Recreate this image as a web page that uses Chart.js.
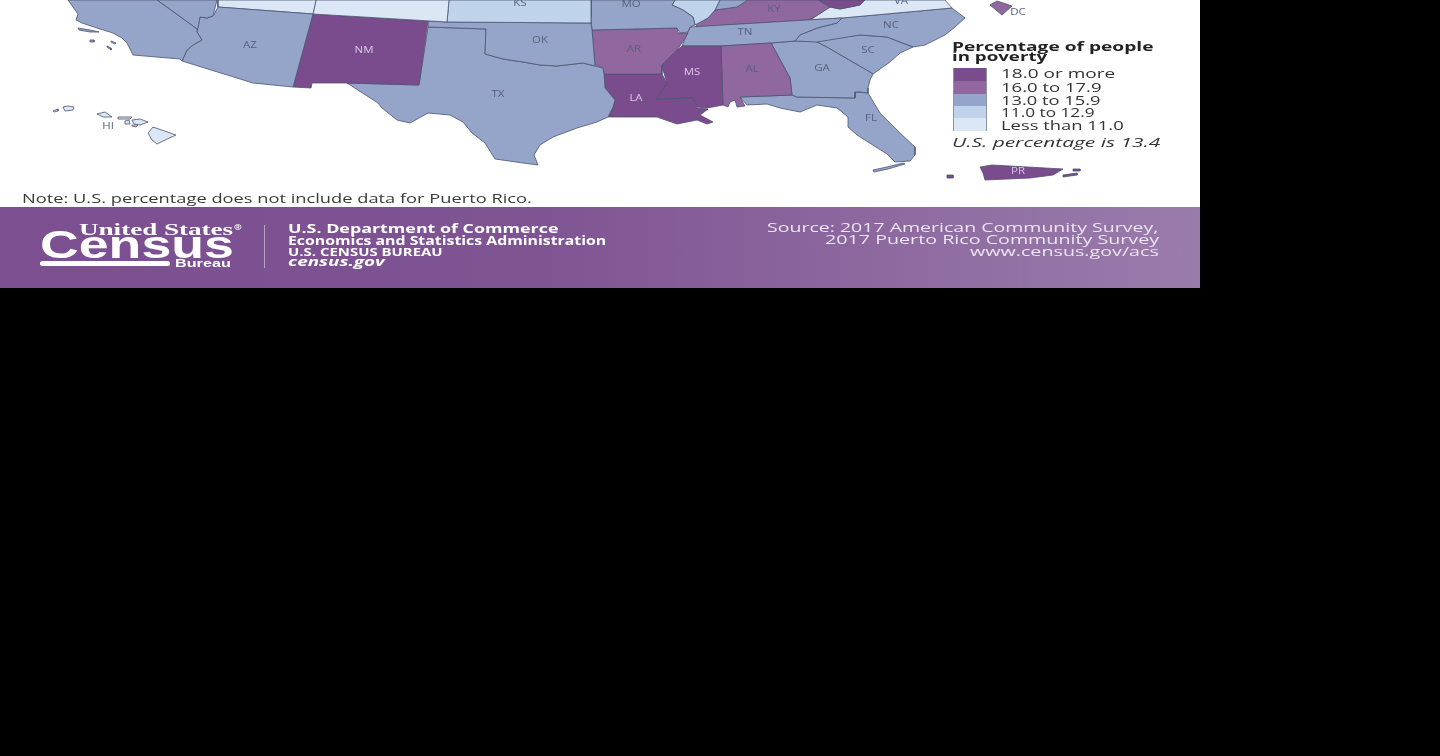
<!DOCTYPE html>
<html>
<head>
<meta charset="utf-8">
<title>Percentage of people in poverty</title>
<script src="https://cdn.jsdelivr.net/npm/chart.js@4"></script>
<style>
  html, body { margin: 0; background: #000; overflow: hidden; }
  #stage { position: relative; width: 1440px; height: 756px; overflow: hidden; }
  #mapChart { position: absolute; left: 0; top: 0; z-index: 1; }
  #panel { position: absolute; left: 0; top: 0; width: 1200px; height: 207px; background: #fff; }
  #banner { position: absolute; left: 0; top: 207px; width: 1200px; height: 81px;
    background: linear-gradient(90deg, #7b4f90 0%, #7f5493 45%, #8e6aa0 75%, #9a7cac 100%); }
  .txt { position: absolute; white-space: nowrap; transform-origin: left center; z-index: 3;
    font-family: "Open Sans", "Liberation Sans", sans-serif; }
  .swatch { position: absolute; left: 953px; width: 34px; box-sizing: border-box; z-index: 3;
    border-left: 1px solid #8a93a8; border-right: 1px solid #8a93a8; }
  #divider { position: absolute; left: 264px; top: 225px; width: 1px; height: 43px; background: #b9a3c5; z-index: 3; }
  #logoBar { position: absolute; left: 40px; top: 261px; width: 130px; height: 5px; background: #fff; border-radius: 3px; z-index: 3; }
</style>
</head>
<body>
<div id="stage">
  <div id="panel"></div>
  <div id="banner"></div>
  <canvas id="mapChart" width="1440" height="756"></canvas>
  <div id="divider"></div>
  <div id="logoBar"></div>
</div>
<script>
// poverty bands, darkest first
const bandLabels = ['18.0 or more', '16.0 to 17.9', '13.0 to 15.9', '11.0 to 12.9', 'Less than 11.0'];
const bandColors = ['#7a4b8d', '#90689f', '#94a5c9', '#bfd3ea', '#dce7f5'];

// state outlines
const caShape = [[68,0],[75,10],[78,14],[76,20],[82,23],[100,29],[113,33],[122,38],[127,43],[133,55],[180,59],[182,61],[187,50],[193,45],[202,40],[197,32],[197,29],[157,0]];
const nvShape = [[157,0],[197,29],[198,28],[200,17],[207,18],[213,16],[217,0]];
const azShape = [[218,7],[313,14],[293,87],[253,83],[182,61],[187,50],[193,45],[202,40],[197,32],[200,17],[207,18],[213,16]];
const utShape = [[217,0],[218,7],[313,14],[316,0]];
const coShape = [[316,0],[313,14],[447,22],[449,0]];
const nmShape = [[313,14],[428,21],[419,85],[347,83],[312,83],[311,88],[293,87]];
const ksShape = [[449,0],[447,22],[591,23],[591,0]];
const okShape = [[428,21],[447,22],[591,23],[592,30],[595,66],[583,63],[557,66],[540,65],[523,62],[503,59],[485,54],[486,29],[428,27]];
const txShape = [[428,27],[486,29],[485,54],[503,59],[523,62],[540,65],[557,66],[583,63],[595,66],[603,68],[604,74],[605,88],[615,100],[613,107],[608,117],[597,122],[577,128],[553,137],[540,145],[534,155],[538,165],[523,163],[495,159],[485,143],[472,133],[463,122],[450,115],[428,113],[410,123],[397,120],[382,108],[378,103],[347,83],[419,85]];
const moShape = [[591,0],[591,17],[592,30],[677,28],[680,33],[688,32],[690,27],[695,25],[693,17],[683,10],[672,5],[675,0]];
const arShape = [[592,30],[677,28],[678,33],[688,33],[682,43],[677,50],[662,65],[662,74],[604,74],[603,68],[595,65]];
const laShape = [[604,74],[662,74],[667,83],[656,99],[693,98],[697,108],[708,109],[700,115],[713,122],[707,124],[697,120],[677,124],[657,117],[608,117],[613,107],[615,100],[605,88]];
const msShape = [[682,46],[721,46],[723,105],[707,108],[697,107],[693,98],[656,99],[667,83],[663,70],[662,65],[677,50]];
const alShape = [[721,46],[771,43],[790,78],[792,95],[740,97],[745,106],[737,107],[735,100],[730,102],[728,107],[723,105]];
const tnShape = [[682,46],[690,27],[807,20],[842,18],[837,23],[817,28],[800,35],[795,41],[771,43],[721,46]];
const ilShape = [[675,0],[672,5],[683,10],[693,17],[695,25],[708,18],[715,10],[720,0]];
const inShape = [[720,0],[715,10],[737,7],[748,0]];
const kyShape = [[696,27],[698,20],[708,18],[715,10],[737,7],[748,0],[818,0],[830,7],[813,18],[807,20]];
const wvShape = [[818,0],[830,7],[840,9],[860,5],[865,0]];
const vaShape = [[865,0],[860,5],[840,9],[830,7],[813,18],[807,20],[842,18],[952,8],[945,0]];
const ncShape = [[842,18],[952,8],[965,18],[955,27],[945,35],[925,45],[913,47],[887,37],[860,35],[817,42],[795,41],[800,35],[817,28],[837,23]];
const scShape = [[815,41],[860,35],[887,37],[913,47],[900,53],[890,62],[873,74],[870,72],[827,47]];
const gaShape = [[771,43],[795,41],[815,41],[827,47],[870,72],[873,74],[870,80],[868,88],[868,93],[860,92],[855,92],[855,98],[797,97],[792,95],[790,78]];
const flShape = [[740,97],[792,95],[797,97],[855,98],[855,92],[868,93],[880,113],[900,133],[915,147],[915,155],[910,161],[895,162],[887,154],[857,135],[848,127],[848,117],[837,108],[817,105],[800,112],[780,108],[767,104],[747,105]];
const keysShape = [[873,170],[887,167],[903,163],[905,164],[888,169],[874,172]];
const dcShape = [[990,5],[997,1],[1012,6],[1002,15]];
const prShape = [[980,167],[992,165],[1063,169],[1053,175],[1030,178],[985,180],[983,173]];
const monaShape = [[947,175],[953,175],[953,178],[947,178]];
const viequesShape = [[1063,175],[1077,173],[1077,175],[1063,177]];
const culebraShape = [[1073,169],[1080,169],[1080,171],[1073,171]];
const kauaiShape = [[63,107],[68,106],[74,107],[73,110],[65,111]];
const niihauShape = [[53,111],[58,109],[58,111],[54,112]];
const oahuShape = [[97,114],[105,112],[112,117],[103,117]];
const molokaiShape = [[118,117],[132,117],[130,119],[118,119]];
const mauiShape = [[132,120],[140,119],[148,122],[140,125],[134,124]];
const lanaiShape = [[125,121],[129,120],[130,124],[126,124]];
const kahoolaweShape = [[132,125],[138,125],[136,127],[132,126]];
const bigIslandShape = [[148,133],[153,127],[176,135],[165,140],[157,144],[152,140]];
const catalinaShape = [[78,28],[90,30],[99,32],[90,32],[79,30]];
const isleAShape = [[90,40],[94,40],[94,42],[90,42]];
const isleBShape = [[111,41],[116,43],[115,44],[111,42]];
const isleCShape = [[107,46],[111,48],[111,50],[107,47]];

// band index per shape
const shapeNames = ['CA','NV','AZ','UT','CO','NM','KS','OK','TX','MO','AR','LA','MS','AL','TN','IL','IN','KY','WV','VA','NC','SC','GA','FL','FL keys','DC','PR','Mona','Vieques','Culebra','Kauai','Niihau','Oahu','Molokai','Maui','Lanai','Kahoolawe','Hawaii','CA isle','CA isle','CA isle','CA isle'];
const shapeBands = [2,2,2,4,4,0,3,2,2,2,1,0,0,1,2,3,2,1,0,4,2,2,2,2,2,1,0,0,0,0,4,4,4,4,4,4,4,4,2,2,2,2];
const shapeLists = [caShape,nvShape,azShape,utShape,coShape,nmShape,ksShape,okShape,txShape,moShape,arShape,laShape,msShape,alShape,tnShape,ilShape,inShape,kyShape,wvShape,vaShape,ncShape,scShape,gaShape,flShape,keysShape,dcShape,prShape,monaShape,viequesShape,culebraShape,kauaiShape,niihauShape,oahuShape,molokaiShape,mauiShape,lanaiShape,kahoolaweShape,bigIslandShape,catalinaShape,isleAShape,isleBShape,isleCShape];

// state abbreviations on the map
const labelTexts = ['KS','MO','KY','VA','NC','TN','OK','AR','SC','AZ','NM','GA','AL','MS','TX','LA','FL','HI','PR','DC'];
const labelX = [520,631,774,901,891,745,540,634,868,250,364,822,752,692,498,636,871,108,1018,1018];
const labelY = [4,5,10,2,26,33,41,50,51,46,51,69,70,73,95,99,119,127,172,13];
const lightLabels = ['NM','MS','LA','PR'];

// text blocks: [text, left, right, centre y, css]
const textBlocks = [
  ['Note: U.S. percentage does not include data for Puerto Rico.', 22, 532, 199, 'font-size:12px;color:#3a3a3a'],
  ['Percentage of people', 952, 1153, 47, 'font-size:12px;font-weight:700;color:#222'],
  ['in poverty', 952, 1047, 57, 'font-size:12px;font-weight:700;color:#222'],
  ['U.S. percentage is 13.4', 952, 1161, 142, 'font-size:13px;font-style:italic;color:#333'],
  ['Source: 2017 American Community Survey,', 767, 1159, 228, 'font-size:12.5px;color:#ece4f0'],
  ['2017 Puerto Rico Community Survey', 825, 1159, 240, 'font-size:12.5px;color:#ece4f0'],
  ['www.census.gov/acs', 970, 1159, 252, 'font-size:12.5px;color:#ece4f0'],
  ['U.S. Department of Commerce', 288, 558, 229, 'font-size:11.5px;font-weight:700;color:#fff'],
  ['Economics and Statistics Administration', 288, 606, 241, 'font-size:11.5px;font-weight:700;color:#fff'],
  ['U.S. CENSUS BUREAU', 288, 443, 252, 'font-size:10.5px;font-weight:700;color:#fff'],
  ['census.gov', 288, 385, 262, 'font-size:11.5px;font-weight:700;font-style:italic;color:#fff'],
  ['United States', 79, 233, 230, 'font-family:Liberation Serif,serif;font-size:16px;font-weight:700;color:#fff'],
  ['®', 234, 242, 228, 'font-size:7px;font-weight:700;color:#fff'],
  ['Census', 40, 234, 245, 'font-family:Liberation Sans,sans-serif;font-size:39px;font-weight:700;color:#fff'],
  ['Bureau', 175, 231, 263, 'font-family:Liberation Sans,sans-serif;font-size:11px;font-weight:700;color:#fff']
];
const bandTops = [68, 81, 94, 106, 118];
const bandBottoms = [81, 94, 106, 118, 131];
const bandLabelRight = [1115, 1102, 1101, 1095, 1124];
const bandLabelY = [73, 87, 100, 112, 125];

const stage = document.getElementById('stage');

function addText(text, left, right, y, css) {
  const el = document.createElement('div');
  el.className = 'txt';
  el.style.cssText = css + ';left:' + left + 'px;top:' + (y - 10) + 'px;line-height:20px';
  el.textContent = text;
  stage.appendChild(el);
  // the reference is stretched sideways, so fit each line to its measured width
  el.style.transform = 'scaleX(' + ((right - left) / el.offsetWidth).toFixed(3) + ')';
}

textBlocks.forEach(b => addText(b[0], b[1], b[2], b[3], b[4]));
bandLabels.forEach((label, i) => {
  const sw = document.createElement('div');
  sw.className = 'swatch';
  sw.style.top = bandTops[i] + 'px';
  sw.style.height = (bandBottoms[i] - bandTops[i]) + 'px';
  sw.style.background = bandColors[i];
  stage.appendChild(sw);
  addText(label, 1001, bandLabelRight[i], bandLabelY[i], 'font-size:13px;color:#333');
});

const stateLabelsPlugin = {
  id: 'stateLabels',
  afterDatasetsDraw(chart) {
    const { ctx, scales } = chart;
    ctx.save();
    ctx.font = '8.5px "Open Sans", sans-serif';
    ctx.textAlign = 'center';
    ctx.textBaseline = 'middle';
    labelTexts.forEach((t, i) => {
      const px = scales.x.getPixelForValue(labelX[i]);
      const py = scales.y.getPixelForValue(labelY[i]);
      ctx.save();
      ctx.translate(px, py);
      ctx.scale(1.35, 1);
      ctx.fillStyle = lightLabels.includes(t) ? '#d9c9e2' : '#58617e';
      ctx.fillText(t, 0, 0);
      ctx.restore();
    });
    ctx.restore();
  }
};

const datasets = shapeLists.map((shape, i) => ({
  label: shapeNames[i],
  data: shape.concat([shape[0]]).map(p => ({ x: p[0], y: p[1] })),
  showLine: true,
  fill: 'shape',
  backgroundColor: bandColors[shapeBands[i]],
  borderColor: '#4b5370',
  borderWidth: 0.8,
  pointRadius: 0,
  tension: 0
}));

new Chart(document.getElementById('mapChart').getContext('2d'), {
  type: 'scatter',
  data: { datasets },
  options: {
    responsive: false,
    animation: false,
    devicePixelRatio: 1,
    layout: { padding: 0 },
    plugins: { legend: { display: false }, tooltip: { enabled: false } },
    scales: {
      x: { type: 'linear', min: 0, max: 1440, display: false },
      y: { type: 'linear', min: 0, max: 756, reverse: true, display: false }
    }
  },
  plugins: [stateLabelsPlugin]
});
</script>
</body>
</html>
